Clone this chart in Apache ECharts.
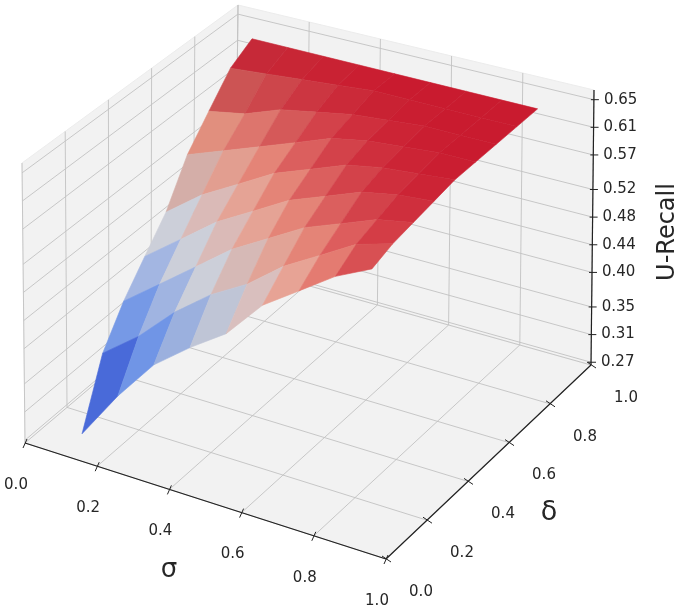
<!DOCTYPE html>
<html>
<head>
<meta charset="utf-8">
<script src="https://cdn.jsdelivr.net/npm/echarts@6/dist/echarts.min.js"></script>
<style>html,body{margin:0;padding:0;background:#fff}#chart{width:685px;height:612px}</style>
</head>
<body>
<div id="chart"></div>
<script>
// 数据开始
var sigmaVals = [0.1, 0.2, 0.3, 0.4, 0.5, 0.6, 0.7, 0.8, 0.9];
var deltaVals = [0.1, 0.2, 0.3, 0.4, 0.5, 0.6, 0.7, 0.8, 0.9];
// 每行一个 delta，每列一个 sigma
var recallRows = [
    [0.27, 0.34, 0.40, 0.44, 0.475, 0.53, 0.565, 0.60, 0.625],
    [0.36, 0.40, 0.45, 0.49, 0.52, 0.56, 0.59, 0.62, 0.635],
    [0.41, 0.45, 0.49, 0.53, 0.56, 0.59, 0.61, 0.63, 0.64],
    [0.45, 0.49, 0.53, 0.56, 0.59, 0.61, 0.63, 0.64, 0.645],
    [0.49, 0.53, 0.56, 0.59, 0.61, 0.63, 0.64, 0.645, 0.65],
    [0.55, 0.57, 0.59, 0.61, 0.63, 0.64, 0.645, 0.65, 0.65],
    [0.59, 0.60, 0.62, 0.63, 0.64, 0.645, 0.65, 0.65, 0.65],
    [0.63, 0.635, 0.64, 0.645, 0.65, 0.65, 0.65, 0.65, 0.65],
    [0.65, 0.65, 0.65, 0.65, 0.65, 0.65, 0.65, 0.65, 0.65]
];
var sigmaTicks = [0, 0.2, 0.4, 0.6, 0.8, 1.0];
var deltaTicks = [0, 0.2, 0.4, 0.6, 0.8, 1.0];
var zTicks = [0.27, 0.31, 0.35, 0.40, 0.44, 0.48, 0.52, 0.57, 0.61, 0.65];
// 数据结束

var Z0 = 0.266, Z1 = 0.664, CMIN = 0.27, CMAX = 0.65;
// 盒子角点 (A: s0 d0, B: s1 d0, C: s1 d1, D: s0 d1)
var FLOOR = {A: [25, 443], B: [386, 559], C: [591, 365], D: [235, 265]};
var TOP = {A: [22, 163], B: [388, 269], C: [594, 90], D: [238, 5]};

function bil(c, s, d) {
    var w = [(1 - s) * (1 - d), s * (1 - d), s * d, (1 - s) * d];
    return [w[0] * c.A[0] + w[1] * c.B[0] + w[2] * c.C[0] + w[3] * c.D[0],
            w[0] * c.A[1] + w[1] * c.B[1] + w[2] * c.C[1] + w[3] * c.D[1]];
}
function proj(s, d, z) {
    var zf = (z - Z0) / (Z1 - Z0);
    var f = bil(FLOOR, s, d), t = bil(TOP, s, d);
    return [f[0] + (t[0] - f[0]) * zf, f[1] + (t[1] - f[1]) * zf];
}

var cw = [[0, [45, 80, 238]], [0.25, [125, 165, 252]], [0.5, [222, 224, 232]], [0.75, [246, 160, 140]], [1, [205, 28, 48]]];
function coolwarm(t, k) {
    t = Math.max(0, Math.min(1, t));
    for (var i = 1; i < cw.length; i++) {
        if (t <= cw[i][0]) {
            var a = cw[i - 1], b = cw[i], f = (t - a[0]) / (b[0] - a[0]);
            var c = [0, 1, 2].map(function(j) {
                return Math.max(0, Math.min(255, Math.round((a[1][j] + (b[1][j] - a[1][j]) * f) * k)));
            });
            return 'rgb(' + c.join(',') + ')';
        }
    }
}

// 面片（从后往前画）
var faces = [];
for (var j = 0; j < deltaVals.length - 1; j++) {
    for (var i = 0; i < sigmaVals.length - 1; i++) {
        faces.push([i, j]);
    }
}
faces.sort(function(a, b) { return (a[0] - a[1]) - (b[0] - b[1]); });
var faceItems = faces.map(function(f) {
    var i = f[0], j = f[1];
    var z00 = recallRows[j][i], z10 = recallRows[j][i + 1], z11 = recallRows[j + 1][i + 1], z01 = recallRows[j + 1][i];
    var pts = [proj(sigmaVals[i], deltaVals[j], z00), proj(sigmaVals[i + 1], deltaVals[j], z10),
               proj(sigmaVals[i + 1], deltaVals[j + 1], z11), proj(sigmaVals[i], deltaVals[j + 1], z01)];
    var ds = sigmaVals[i + 1] - sigmaVals[i], dd = deltaVals[j + 1] - deltaVals[j];
    var dzs = ((z10 - z00) + (z11 - z01)) / 2 / (Z1 - Z0) * 0.8;
    var dzd = ((z01 - z00) + (z11 - z10)) / 2 / (Z1 - Z0) * 0.8;
    var n = [-dzs * dd, -ds * dzd, ds * dd];
    var nl = Math.sqrt(n[0] * n[0] + n[1] * n[1] + n[2] * n[2]);
    var L = [-0.5, 0.5, 0.707];
    var dot = (n[0] * L[0] + n[1] * L[1] + n[2] * L[2]) / nl;
    var k = 0.84 + 0.2 * dot;
    var zavg = (z00 + z10 + z11 + z01) / 4;
    var t = Math.pow((zavg - CMIN) / (CMAX - CMIN), 1.3);
    return {pts: pts, color: coolwarm(t, k)};
});

// 背景面板
var panes = [
    [FLOOR.A, FLOOR.B, FLOOR.C, FLOOR.D],
    [FLOOR.A, FLOOR.D, TOP.D, TOP.A],
    [FLOOR.D, FLOOR.C, TOP.C, TOP.D]
];

// 网格线
var segs = [];
sigmaTicks.forEach(function(s) {
    segs.push([proj(s, 0, Z0), proj(s, 1, Z0), '#c2c2c2', 0.9]);
    segs.push([proj(s, 1, Z0), proj(s, 1, Z1), '#c2c2c2', 0.9]);
});
deltaTicks.forEach(function(d) {
    segs.push([proj(0, d, Z0), proj(1, d, Z0), '#c2c2c2', 0.9]);
    segs.push([proj(0, d, Z0), proj(0, d, Z1), '#c2c2c2', 0.9]);
});
zTicks.forEach(function(z) {
    segs.push([proj(0, 0, z), proj(0, 1, z), '#c2c2c2', 0.9]);
    segs.push([proj(0, 1, z), proj(1, 1, z), '#c2c2c2', 0.9]);
});

// 坐标轴与刻度
var axisSegs = [
    [FLOOR.A, FLOOR.B, '#222', 1.2],
    [FLOOR.B, FLOOR.C, '#222', 1.2],
    [FLOOR.C, TOP.C, '#222', 1.2]
];
var texts = [];
sigmaTicks.forEach(function(s) {
    var p = proj(s, 0, Z0);
    axisSegs.push([[p[0] + 2, p[1] - 4], [p[0] - 2, p[1] + 5], '#222', 1]);
    texts.push([p[0] - 9, p[1] + 42, s.toFixed(1), 15, 0]);
});
deltaTicks.forEach(function(d) {
    var p = proj(1, d, Z0);
    axisSegs.push([[p[0] - 4, p[1] - 3], [p[0] + 5, p[1] + 3], '#222', 1]);
    texts.push([p[0] + 35, p[1] + 33, d.toFixed(1), 15, 0]);
});
zTicks.forEach(function(z) {
    var p = proj(1, 1, z);
    axisSegs.push([[p[0] - 3, p[1]], [p[0] + 5, p[1]], '#222', 1]);
    texts.push([p[0] + 10, p[1], z.toFixed(2), 15, 0, 'left']);
});
texts.push([169, 570, 'σ', 26, 0]);
texts.push([549, 513, 'δ', 27, 0]);
texts.push([668, 232, 'U-Recall', 24, Math.PI / 2]);

function idx(arr) { return arr.map(function(_, i) { return i; }); }
function polyItem(api, pts, style) {
    return {type: 'polygon', shape: {points: pts.map(function(p) { return api.coord(p); })}, style: style};
}
function lineItem(api, sg) {
    var a = api.coord(sg[0]), b = api.coord(sg[1]);
    return {type: 'line', shape: {x1: a[0], y1: a[1], x2: b[0], y2: b[1]}, style: {stroke: sg[2], lineWidth: sg[3]}};
}

var myChart = echarts.init(document.getElementById('chart'));
var option = {
    animation: false,
    grid: {left: 0, right: 0, top: 0, bottom: 0},
    xAxis: {type: 'value', min: 0, max: 685, show: false},
    yAxis: {type: 'value', min: 0, max: 612, inverse: true, show: false},
    series: [{
        type: 'custom', data: idx(panes), silent: true,
        renderItem: function(params, api) {
            return polyItem(api, panes[params.dataIndex], {fill: '#f2f2f2', stroke: '#ececec', lineWidth: 1});
        }
    }, {
        type: 'custom', data: idx(segs), silent: true,
        renderItem: function(params, api) { return lineItem(api, segs[params.dataIndex]); }
    }, {
        type: 'custom', data: idx(faceItems), silent: true,
        renderItem: function(params, api) {
            var f = faceItems[params.dataIndex];
            return polyItem(api, f.pts, {fill: f.color, stroke: f.color, lineWidth: 0.6});
        }
    }, {
        type: 'custom', data: idx(axisSegs), silent: true,
        renderItem: function(params, api) { return lineItem(api, axisSegs[params.dataIndex]); }
    }, {
        type: 'custom', data: idx(texts), silent: true,
        renderItem: function(params, api) {
            var t = texts[params.dataIndex], p = api.coord([t[0], t[1]]);
            return {
                type: 'text', x: p[0], y: p[1], rotation: t[4],
                style: {text: t[2], fill: '#262626', fontSize: t[3], fontFamily: 'DejaVu Sans',
                        align: t[5] || 'center', verticalAlign: 'middle'}
            };
        }
    }]
};
myChart.setOption(option);
</script>
</body>
</html>
